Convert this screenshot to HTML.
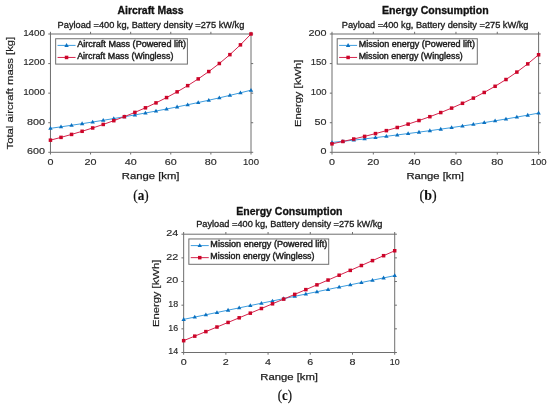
<!DOCTYPE html>
<html><head><meta charset="utf-8"><style>
html,body{margin:0;padding:0;background:#fff;}
body{width:550px;height:410px;overflow:hidden;}
svg{display:block;will-change:transform;}
</style></head><body>
<svg width="550" height="410" viewBox="0 0 550 410">
<rect width="550" height="410" fill="#fff"/>
<text x="117.50" y="14.20" font-size="10.2" font-weight="bold" text-anchor="start" fill="#111" stroke="#111" stroke-width="0.3" font-family='"Liberation Sans", sans-serif' textLength="66.10" lengthAdjust="spacingAndGlyphs">Aircraft Mass</text>
<text x="57.60" y="27.60" font-size="8.5" font-weight="normal" text-anchor="start" fill="#1a1a1a" stroke="#1a1a1a" stroke-width="0.3" font-family='"Liberation Sans", sans-serif' textLength="186.70" lengthAdjust="spacingAndGlyphs">Payload =400 kg, Battery density =275 kW/kg</text>
<rect x="50.45" y="34.00" width="200.55" height="118.30" fill="none" stroke="#6e6e6e" stroke-width="1"/>
<line x1="50.45" y1="152.30" x2="50.45" y2="154.50" stroke="#6e6e6e" stroke-width="1"/>
<line x1="50.45" y1="34.00" x2="50.45" y2="31.80" stroke="#6e6e6e" stroke-width="1"/>
<text x="50.45" y="165.00" font-size="8.8" font-weight="normal" text-anchor="middle" fill="#2a2a2a" stroke="#2a2a2a" stroke-width="0.15" font-family='"Liberation Sans", sans-serif' textLength="6.00" lengthAdjust="spacingAndGlyphs">0</text>
<line x1="90.56" y1="152.30" x2="90.56" y2="154.50" stroke="#6e6e6e" stroke-width="1"/>
<line x1="90.56" y1="34.00" x2="90.56" y2="31.80" stroke="#6e6e6e" stroke-width="1"/>
<text x="90.56" y="165.00" font-size="8.8" font-weight="normal" text-anchor="middle" fill="#2a2a2a" stroke="#2a2a2a" stroke-width="0.15" font-family='"Liberation Sans", sans-serif' textLength="12.00" lengthAdjust="spacingAndGlyphs">20</text>
<line x1="130.67" y1="152.30" x2="130.67" y2="154.50" stroke="#6e6e6e" stroke-width="1"/>
<line x1="130.67" y1="34.00" x2="130.67" y2="31.80" stroke="#6e6e6e" stroke-width="1"/>
<text x="130.67" y="165.00" font-size="8.8" font-weight="normal" text-anchor="middle" fill="#2a2a2a" stroke="#2a2a2a" stroke-width="0.15" font-family='"Liberation Sans", sans-serif' textLength="12.00" lengthAdjust="spacingAndGlyphs">40</text>
<line x1="170.78" y1="152.30" x2="170.78" y2="154.50" stroke="#6e6e6e" stroke-width="1"/>
<line x1="170.78" y1="34.00" x2="170.78" y2="31.80" stroke="#6e6e6e" stroke-width="1"/>
<text x="170.78" y="165.00" font-size="8.8" font-weight="normal" text-anchor="middle" fill="#2a2a2a" stroke="#2a2a2a" stroke-width="0.15" font-family='"Liberation Sans", sans-serif' textLength="12.00" lengthAdjust="spacingAndGlyphs">60</text>
<line x1="210.89" y1="152.30" x2="210.89" y2="154.50" stroke="#6e6e6e" stroke-width="1"/>
<line x1="210.89" y1="34.00" x2="210.89" y2="31.80" stroke="#6e6e6e" stroke-width="1"/>
<text x="210.89" y="165.00" font-size="8.8" font-weight="normal" text-anchor="middle" fill="#2a2a2a" stroke="#2a2a2a" stroke-width="0.15" font-family='"Liberation Sans", sans-serif' textLength="12.00" lengthAdjust="spacingAndGlyphs">80</text>
<line x1="251.00" y1="152.30" x2="251.00" y2="154.50" stroke="#6e6e6e" stroke-width="1"/>
<line x1="251.00" y1="34.00" x2="251.00" y2="31.80" stroke="#6e6e6e" stroke-width="1"/>
<text x="251.00" y="165.00" font-size="8.8" font-weight="normal" text-anchor="middle" fill="#2a2a2a" stroke="#2a2a2a" stroke-width="0.15" font-family='"Liberation Sans", sans-serif' textLength="15.90" lengthAdjust="spacingAndGlyphs">100</text>
<line x1="50.45" y1="152.30" x2="48.25" y2="152.30" stroke="#6e6e6e" stroke-width="1"/>
<line x1="251.00" y1="152.30" x2="253.20" y2="152.30" stroke="#6e6e6e" stroke-width="1"/>
<text x="45.05" y="154.20" font-size="8.8" font-weight="normal" text-anchor="end" fill="#2a2a2a" stroke="#2a2a2a" stroke-width="0.15" font-family='"Liberation Sans", sans-serif' textLength="18.00" lengthAdjust="spacingAndGlyphs">600</text>
<line x1="50.45" y1="122.73" x2="48.25" y2="122.73" stroke="#6e6e6e" stroke-width="1"/>
<line x1="251.00" y1="122.73" x2="253.20" y2="122.73" stroke="#6e6e6e" stroke-width="1"/>
<text x="45.05" y="124.63" font-size="8.8" font-weight="normal" text-anchor="end" fill="#2a2a2a" stroke="#2a2a2a" stroke-width="0.15" font-family='"Liberation Sans", sans-serif' textLength="18.00" lengthAdjust="spacingAndGlyphs">800</text>
<line x1="50.45" y1="93.15" x2="48.25" y2="93.15" stroke="#6e6e6e" stroke-width="1"/>
<line x1="251.00" y1="93.15" x2="253.20" y2="93.15" stroke="#6e6e6e" stroke-width="1"/>
<text x="45.05" y="95.05" font-size="8.8" font-weight="normal" text-anchor="end" fill="#2a2a2a" stroke="#2a2a2a" stroke-width="0.15" font-family='"Liberation Sans", sans-serif' textLength="21.90" lengthAdjust="spacingAndGlyphs">1000</text>
<line x1="50.45" y1="63.58" x2="48.25" y2="63.58" stroke="#6e6e6e" stroke-width="1"/>
<line x1="251.00" y1="63.58" x2="253.20" y2="63.58" stroke="#6e6e6e" stroke-width="1"/>
<text x="45.05" y="65.48" font-size="8.8" font-weight="normal" text-anchor="end" fill="#2a2a2a" stroke="#2a2a2a" stroke-width="0.15" font-family='"Liberation Sans", sans-serif' textLength="21.90" lengthAdjust="spacingAndGlyphs">1200</text>
<line x1="50.45" y1="34.00" x2="48.25" y2="34.00" stroke="#6e6e6e" stroke-width="1"/>
<line x1="251.00" y1="34.00" x2="253.20" y2="34.00" stroke="#6e6e6e" stroke-width="1"/>
<text x="45.05" y="35.90" font-size="8.8" font-weight="normal" text-anchor="end" fill="#2a2a2a" stroke="#2a2a2a" stroke-width="0.15" font-family='"Liberation Sans", sans-serif' textLength="21.90" lengthAdjust="spacingAndGlyphs">1400</text>
<path d="M50.45,128.34 L61.01,126.82 L71.56,125.26 L82.12,123.66 L92.67,122.00 L103.23,120.31 L113.78,118.56 L124.34,116.76 L134.89,114.91 L145.45,113.00 L156.00,111.04 L166.56,109.01 L177.11,106.91 L187.67,104.76 L198.22,102.52 L208.78,100.22 L219.33,97.84 L229.89,95.37 L240.44,92.82 L251.00,90.18" fill="none" stroke="#3d9ddf" stroke-width="1"/>
<path d="M50.45,126.04 L52.65,129.84 L48.25,129.84 Z" fill="#0a70c0"/>
<path d="M61.01,124.52 L63.21,128.32 L58.81,128.32 Z" fill="#0a70c0"/>
<path d="M71.56,122.96 L73.76,126.76 L69.36,126.76 Z" fill="#0a70c0"/>
<path d="M82.12,121.36 L84.32,125.16 L79.92,125.16 Z" fill="#0a70c0"/>
<path d="M92.67,119.70 L94.87,123.50 L90.47,123.50 Z" fill="#0a70c0"/>
<path d="M103.23,118.01 L105.43,121.81 L101.03,121.81 Z" fill="#0a70c0"/>
<path d="M113.78,116.26 L115.98,120.06 L111.58,120.06 Z" fill="#0a70c0"/>
<path d="M124.34,114.46 L126.54,118.26 L122.14,118.26 Z" fill="#0a70c0"/>
<path d="M134.89,112.61 L137.09,116.41 L132.69,116.41 Z" fill="#0a70c0"/>
<path d="M145.45,110.70 L147.65,114.50 L143.25,114.50 Z" fill="#0a70c0"/>
<path d="M156.00,108.74 L158.20,112.54 L153.80,112.54 Z" fill="#0a70c0"/>
<path d="M166.56,106.71 L168.76,110.51 L164.36,110.51 Z" fill="#0a70c0"/>
<path d="M177.11,104.61 L179.31,108.41 L174.91,108.41 Z" fill="#0a70c0"/>
<path d="M187.67,102.46 L189.87,106.26 L185.47,106.26 Z" fill="#0a70c0"/>
<path d="M198.22,100.22 L200.42,104.02 L196.02,104.02 Z" fill="#0a70c0"/>
<path d="M208.78,97.92 L210.98,101.72 L206.58,101.72 Z" fill="#0a70c0"/>
<path d="M219.33,95.54 L221.53,99.34 L217.13,99.34 Z" fill="#0a70c0"/>
<path d="M229.89,93.07 L232.09,96.87 L227.69,96.87 Z" fill="#0a70c0"/>
<path d="M240.44,90.52 L242.64,94.32 L238.24,94.32 Z" fill="#0a70c0"/>
<path d="M251.00,87.88 L253.20,91.68 L248.80,91.68 Z" fill="#0a70c0"/>
<path d="M50.45,140.17 L61.01,137.38 L71.56,134.42 L82.12,131.29 L92.67,127.97 L103.23,124.44 L113.78,120.68 L124.34,116.68 L134.89,112.40 L145.45,107.81 L156.00,102.88 L166.56,97.58 L177.11,91.85 L187.67,85.65 L198.22,78.90 L208.78,71.55 L219.33,63.50 L229.89,54.64 L240.44,44.85 L251.00,33.98" fill="none" stroke="#d5234c" stroke-width="1"/>
<rect x="48.70" y="138.42" width="3.5" height="3.5" fill="#cc0529"/>
<rect x="59.26" y="135.63" width="3.5" height="3.5" fill="#cc0529"/>
<rect x="69.81" y="132.67" width="3.5" height="3.5" fill="#cc0529"/>
<rect x="80.37" y="129.54" width="3.5" height="3.5" fill="#cc0529"/>
<rect x="90.92" y="126.22" width="3.5" height="3.5" fill="#cc0529"/>
<rect x="101.48" y="122.69" width="3.5" height="3.5" fill="#cc0529"/>
<rect x="112.03" y="118.93" width="3.5" height="3.5" fill="#cc0529"/>
<rect x="122.59" y="114.93" width="3.5" height="3.5" fill="#cc0529"/>
<rect x="133.14" y="110.65" width="3.5" height="3.5" fill="#cc0529"/>
<rect x="143.70" y="106.06" width="3.5" height="3.5" fill="#cc0529"/>
<rect x="154.25" y="101.13" width="3.5" height="3.5" fill="#cc0529"/>
<rect x="164.81" y="95.83" width="3.5" height="3.5" fill="#cc0529"/>
<rect x="175.36" y="90.10" width="3.5" height="3.5" fill="#cc0529"/>
<rect x="185.92" y="83.90" width="3.5" height="3.5" fill="#cc0529"/>
<rect x="196.47" y="77.15" width="3.5" height="3.5" fill="#cc0529"/>
<rect x="207.03" y="69.80" width="3.5" height="3.5" fill="#cc0529"/>
<rect x="217.58" y="61.75" width="3.5" height="3.5" fill="#cc0529"/>
<rect x="228.14" y="52.89" width="3.5" height="3.5" fill="#cc0529"/>
<rect x="238.69" y="43.10" width="3.5" height="3.5" fill="#cc0529"/>
<rect x="249.25" y="32.23" width="3.5" height="3.5" fill="#cc0529"/>
<rect x="55.65" y="38.75" width="131.75" height="25.35" fill="#fff" stroke="#6e6e6e" stroke-width="1"/>
<line x1="57.55" y1="45.40" x2="75.55" y2="45.40" stroke="#3d9ddf" stroke-width="1"/>
<path d="M66.55,43.10 L68.75,46.90 L64.35,46.90 Z" fill="#0a70c0"/>
<text x="77.15" y="47.00" font-size="8.4" font-weight="normal" text-anchor="start" fill="#1c1c1c" stroke="#1c1c1c" stroke-width="0.4" font-family='"Liberation Sans", sans-serif' textLength="108.95" lengthAdjust="spacingAndGlyphs">Aircraft Mass (Powered lift)</text>
<line x1="57.55" y1="57.45" x2="75.55" y2="57.45" stroke="#d5234c" stroke-width="1"/>
<rect x="64.80" y="55.70" width="3.5" height="3.5" fill="#cc0529"/>
<text x="77.15" y="59.05" font-size="8.4" font-weight="normal" text-anchor="start" fill="#1c1c1c" stroke="#1c1c1c" stroke-width="0.4" font-family='"Liberation Sans", sans-serif' textLength="96.25" lengthAdjust="spacingAndGlyphs">Aircraft Mass (Wingless)</text>
<g transform="translate(12.80,93.15) rotate(-90)">
<text x="0.00" y="0.00" font-size="9.6" font-weight="normal" text-anchor="middle" fill="#1c1c1c" stroke="#1c1c1c" stroke-width="0.2" font-family='"Liberation Sans", sans-serif' textLength="112.70" lengthAdjust="spacingAndGlyphs">Total aircraft mass [kg]</text>
</g>
<text x="121.80" y="179.30" font-size="9.4" font-weight="normal" text-anchor="start" fill="#1c1c1c" stroke="#1c1c1c" stroke-width="0.25" font-family='"Liberation Sans", sans-serif' textLength="57.70" lengthAdjust="spacingAndGlyphs">Range [km]</text>
<text x="133.30" y="200.00" font-size="14" fill="#111" stroke="#111" stroke-width="0.2" font-family='"Liberation Serif", serif' textLength="15.40" lengthAdjust="spacingAndGlyphs">(<tspan font-weight="bold" stroke-width="0.1">a</tspan>)</text>
<text x="382.00" y="14.20" font-size="10.2" font-weight="bold" text-anchor="start" fill="#111" stroke="#111" stroke-width="0.3" font-family='"Liberation Sans", sans-serif' textLength="106.70" lengthAdjust="spacingAndGlyphs">Energy Consumption</text>
<text x="341.80" y="27.60" font-size="8.5" font-weight="normal" text-anchor="start" fill="#1a1a1a" stroke="#1a1a1a" stroke-width="0.3" font-family='"Liberation Sans", sans-serif' textLength="186.70" lengthAdjust="spacingAndGlyphs">Payload =400 kg, Battery density =275 kW/kg</text>
<rect x="332.00" y="34.00" width="206.60" height="118.30" fill="none" stroke="#6e6e6e" stroke-width="1"/>
<line x1="332.00" y1="152.30" x2="332.00" y2="154.50" stroke="#6e6e6e" stroke-width="1"/>
<line x1="332.00" y1="34.00" x2="332.00" y2="31.80" stroke="#6e6e6e" stroke-width="1"/>
<text x="332.00" y="165.00" font-size="8.8" font-weight="normal" text-anchor="middle" fill="#2a2a2a" stroke="#2a2a2a" stroke-width="0.15" font-family='"Liberation Sans", sans-serif' textLength="6.00" lengthAdjust="spacingAndGlyphs">0</text>
<line x1="373.32" y1="152.30" x2="373.32" y2="154.50" stroke="#6e6e6e" stroke-width="1"/>
<line x1="373.32" y1="34.00" x2="373.32" y2="31.80" stroke="#6e6e6e" stroke-width="1"/>
<text x="373.32" y="165.00" font-size="8.8" font-weight="normal" text-anchor="middle" fill="#2a2a2a" stroke="#2a2a2a" stroke-width="0.15" font-family='"Liberation Sans", sans-serif' textLength="12.00" lengthAdjust="spacingAndGlyphs">20</text>
<line x1="414.64" y1="152.30" x2="414.64" y2="154.50" stroke="#6e6e6e" stroke-width="1"/>
<line x1="414.64" y1="34.00" x2="414.64" y2="31.80" stroke="#6e6e6e" stroke-width="1"/>
<text x="414.64" y="165.00" font-size="8.8" font-weight="normal" text-anchor="middle" fill="#2a2a2a" stroke="#2a2a2a" stroke-width="0.15" font-family='"Liberation Sans", sans-serif' textLength="12.00" lengthAdjust="spacingAndGlyphs">40</text>
<line x1="455.96" y1="152.30" x2="455.96" y2="154.50" stroke="#6e6e6e" stroke-width="1"/>
<line x1="455.96" y1="34.00" x2="455.96" y2="31.80" stroke="#6e6e6e" stroke-width="1"/>
<text x="455.96" y="165.00" font-size="8.8" font-weight="normal" text-anchor="middle" fill="#2a2a2a" stroke="#2a2a2a" stroke-width="0.15" font-family='"Liberation Sans", sans-serif' textLength="12.00" lengthAdjust="spacingAndGlyphs">60</text>
<line x1="497.28" y1="152.30" x2="497.28" y2="154.50" stroke="#6e6e6e" stroke-width="1"/>
<line x1="497.28" y1="34.00" x2="497.28" y2="31.80" stroke="#6e6e6e" stroke-width="1"/>
<text x="497.28" y="165.00" font-size="8.8" font-weight="normal" text-anchor="middle" fill="#2a2a2a" stroke="#2a2a2a" stroke-width="0.15" font-family='"Liberation Sans", sans-serif' textLength="12.00" lengthAdjust="spacingAndGlyphs">80</text>
<line x1="538.60" y1="152.30" x2="538.60" y2="154.50" stroke="#6e6e6e" stroke-width="1"/>
<line x1="538.60" y1="34.00" x2="538.60" y2="31.80" stroke="#6e6e6e" stroke-width="1"/>
<text x="538.60" y="165.00" font-size="8.8" font-weight="normal" text-anchor="middle" fill="#2a2a2a" stroke="#2a2a2a" stroke-width="0.15" font-family='"Liberation Sans", sans-serif' textLength="15.90" lengthAdjust="spacingAndGlyphs">100</text>
<line x1="332.00" y1="152.30" x2="329.80" y2="152.30" stroke="#6e6e6e" stroke-width="1"/>
<line x1="538.60" y1="152.30" x2="540.80" y2="152.30" stroke="#6e6e6e" stroke-width="1"/>
<text x="326.60" y="154.20" font-size="8.8" font-weight="normal" text-anchor="end" fill="#2a2a2a" stroke="#2a2a2a" stroke-width="0.15" font-family='"Liberation Sans", sans-serif' textLength="6.00" lengthAdjust="spacingAndGlyphs">0</text>
<line x1="332.00" y1="122.73" x2="329.80" y2="122.73" stroke="#6e6e6e" stroke-width="1"/>
<line x1="538.60" y1="122.73" x2="540.80" y2="122.73" stroke="#6e6e6e" stroke-width="1"/>
<text x="326.60" y="124.63" font-size="8.8" font-weight="normal" text-anchor="end" fill="#2a2a2a" stroke="#2a2a2a" stroke-width="0.15" font-family='"Liberation Sans", sans-serif' textLength="12.00" lengthAdjust="spacingAndGlyphs">50</text>
<line x1="332.00" y1="93.15" x2="329.80" y2="93.15" stroke="#6e6e6e" stroke-width="1"/>
<line x1="538.60" y1="93.15" x2="540.80" y2="93.15" stroke="#6e6e6e" stroke-width="1"/>
<text x="326.60" y="95.05" font-size="8.8" font-weight="normal" text-anchor="end" fill="#2a2a2a" stroke="#2a2a2a" stroke-width="0.15" font-family='"Liberation Sans", sans-serif' textLength="15.90" lengthAdjust="spacingAndGlyphs">100</text>
<line x1="332.00" y1="63.58" x2="329.80" y2="63.58" stroke="#6e6e6e" stroke-width="1"/>
<line x1="538.60" y1="63.58" x2="540.80" y2="63.58" stroke="#6e6e6e" stroke-width="1"/>
<text x="326.60" y="65.48" font-size="8.8" font-weight="normal" text-anchor="end" fill="#2a2a2a" stroke="#2a2a2a" stroke-width="0.15" font-family='"Liberation Sans", sans-serif' textLength="15.90" lengthAdjust="spacingAndGlyphs">150</text>
<line x1="332.00" y1="34.00" x2="329.80" y2="34.00" stroke="#6e6e6e" stroke-width="1"/>
<line x1="538.60" y1="34.00" x2="540.80" y2="34.00" stroke="#6e6e6e" stroke-width="1"/>
<text x="326.60" y="35.90" font-size="8.8" font-weight="normal" text-anchor="end" fill="#2a2a2a" stroke="#2a2a2a" stroke-width="0.15" font-family='"Liberation Sans", sans-serif' textLength="18.00" lengthAdjust="spacingAndGlyphs">200</text>
<path d="M332.00,142.48 L342.87,141.31 L353.75,140.11 L364.62,138.87 L375.49,137.60 L386.37,136.29 L397.24,134.95 L408.12,133.56 L418.99,132.14 L429.86,130.67 L440.74,129.15 L451.61,127.59 L462.48,125.98 L473.36,124.32 L484.23,122.60 L495.11,120.82 L505.98,118.99 L516.85,117.09 L527.73,115.13 L538.60,113.09" fill="none" stroke="#3d9ddf" stroke-width="1"/>
<path d="M332.00,140.18 L334.20,143.98 L329.80,143.98 Z" fill="#0a70c0"/>
<path d="M342.87,139.01 L345.07,142.81 L340.67,142.81 Z" fill="#0a70c0"/>
<path d="M353.75,137.81 L355.95,141.61 L351.55,141.61 Z" fill="#0a70c0"/>
<path d="M364.62,136.57 L366.82,140.37 L362.42,140.37 Z" fill="#0a70c0"/>
<path d="M375.49,135.30 L377.69,139.10 L373.29,139.10 Z" fill="#0a70c0"/>
<path d="M386.37,133.99 L388.57,137.79 L384.17,137.79 Z" fill="#0a70c0"/>
<path d="M397.24,132.65 L399.44,136.45 L395.04,136.45 Z" fill="#0a70c0"/>
<path d="M408.12,131.26 L410.32,135.06 L405.92,135.06 Z" fill="#0a70c0"/>
<path d="M418.99,129.84 L421.19,133.64 L416.79,133.64 Z" fill="#0a70c0"/>
<path d="M429.86,128.37 L432.06,132.17 L427.66,132.17 Z" fill="#0a70c0"/>
<path d="M440.74,126.85 L442.94,130.65 L438.54,130.65 Z" fill="#0a70c0"/>
<path d="M451.61,125.29 L453.81,129.09 L449.41,129.09 Z" fill="#0a70c0"/>
<path d="M462.48,123.68 L464.68,127.48 L460.28,127.48 Z" fill="#0a70c0"/>
<path d="M473.36,122.02 L475.56,125.82 L471.16,125.82 Z" fill="#0a70c0"/>
<path d="M484.23,120.30 L486.43,124.10 L482.03,124.10 Z" fill="#0a70c0"/>
<path d="M495.11,118.52 L497.31,122.32 L492.91,122.32 Z" fill="#0a70c0"/>
<path d="M505.98,116.69 L508.18,120.49 L503.78,120.49 Z" fill="#0a70c0"/>
<path d="M516.85,114.79 L519.05,118.59 L514.65,118.59 Z" fill="#0a70c0"/>
<path d="M527.73,112.83 L529.93,116.63 L525.53,116.63 Z" fill="#0a70c0"/>
<path d="M538.60,110.79 L540.80,114.59 L536.40,114.59 Z" fill="#0a70c0"/>
<path d="M332.00,143.84 L342.87,141.49 L353.75,139.01 L364.62,136.39 L375.49,133.60 L386.37,130.64 L397.24,127.49 L408.12,124.13 L418.99,120.54 L429.86,116.69 L440.74,112.56 L451.61,108.11 L462.48,103.31 L473.36,98.10 L484.23,92.45 L495.11,86.28 L505.98,79.52 L516.85,72.09 L527.73,63.89 L538.60,54.77" fill="none" stroke="#d5234c" stroke-width="1"/>
<rect x="330.25" y="142.09" width="3.5" height="3.5" fill="#cc0529"/>
<rect x="341.12" y="139.74" width="3.5" height="3.5" fill="#cc0529"/>
<rect x="352.00" y="137.26" width="3.5" height="3.5" fill="#cc0529"/>
<rect x="362.87" y="134.64" width="3.5" height="3.5" fill="#cc0529"/>
<rect x="373.74" y="131.85" width="3.5" height="3.5" fill="#cc0529"/>
<rect x="384.62" y="128.89" width="3.5" height="3.5" fill="#cc0529"/>
<rect x="395.49" y="125.74" width="3.5" height="3.5" fill="#cc0529"/>
<rect x="406.37" y="122.38" width="3.5" height="3.5" fill="#cc0529"/>
<rect x="417.24" y="118.79" width="3.5" height="3.5" fill="#cc0529"/>
<rect x="428.11" y="114.94" width="3.5" height="3.5" fill="#cc0529"/>
<rect x="438.99" y="110.81" width="3.5" height="3.5" fill="#cc0529"/>
<rect x="449.86" y="106.36" width="3.5" height="3.5" fill="#cc0529"/>
<rect x="460.73" y="101.56" width="3.5" height="3.5" fill="#cc0529"/>
<rect x="471.61" y="96.35" width="3.5" height="3.5" fill="#cc0529"/>
<rect x="482.48" y="90.70" width="3.5" height="3.5" fill="#cc0529"/>
<rect x="493.36" y="84.53" width="3.5" height="3.5" fill="#cc0529"/>
<rect x="504.23" y="77.77" width="3.5" height="3.5" fill="#cc0529"/>
<rect x="515.10" y="70.34" width="3.5" height="3.5" fill="#cc0529"/>
<rect x="525.98" y="62.14" width="3.5" height="3.5" fill="#cc0529"/>
<rect x="536.85" y="53.02" width="3.5" height="3.5" fill="#cc0529"/>
<rect x="337.20" y="38.75" width="140.10" height="25.35" fill="#fff" stroke="#6e6e6e" stroke-width="1"/>
<line x1="339.10" y1="45.40" x2="357.10" y2="45.40" stroke="#3d9ddf" stroke-width="1"/>
<path d="M348.10,43.10 L350.30,46.90 L345.90,46.90 Z" fill="#0a70c0"/>
<text x="358.70" y="47.00" font-size="8.4" font-weight="normal" text-anchor="start" fill="#1c1c1c" stroke="#1c1c1c" stroke-width="0.4" font-family='"Liberation Sans", sans-serif' textLength="116.30" lengthAdjust="spacingAndGlyphs">Mission energy (Powered lift)</text>
<line x1="339.10" y1="57.45" x2="357.10" y2="57.45" stroke="#d5234c" stroke-width="1"/>
<rect x="346.35" y="55.70" width="3.5" height="3.5" fill="#cc0529"/>
<text x="358.70" y="59.05" font-size="8.4" font-weight="normal" text-anchor="start" fill="#1c1c1c" stroke="#1c1c1c" stroke-width="0.4" font-family='"Liberation Sans", sans-serif' textLength="104.10" lengthAdjust="spacingAndGlyphs">Mission energy (Wingless)</text>
<g transform="translate(300.80,93.40) rotate(-90)">
<text x="0.00" y="0.00" font-size="9.6" font-weight="normal" text-anchor="middle" fill="#1c1c1c" stroke="#1c1c1c" stroke-width="0.2" font-family='"Liberation Sans", sans-serif' textLength="67.40" lengthAdjust="spacingAndGlyphs">Energy [kWh]</text>
</g>
<text x="406.40" y="179.30" font-size="9.4" font-weight="normal" text-anchor="start" fill="#1c1c1c" stroke="#1c1c1c" stroke-width="0.25" font-family='"Liberation Sans", sans-serif' textLength="57.60" lengthAdjust="spacingAndGlyphs">Range [km]</text>
<text x="419.60" y="200.00" font-size="14" fill="#111" stroke="#111" stroke-width="0.2" font-family='"Liberation Serif", serif' textLength="17.10" lengthAdjust="spacingAndGlyphs">(<tspan font-weight="bold" stroke-width="0.1">b</tspan>)</text>
<text x="236.30" y="214.70" font-size="10.2" font-weight="bold" text-anchor="start" fill="#111" stroke="#111" stroke-width="0.3" font-family='"Liberation Sans", sans-serif' textLength="106.20" lengthAdjust="spacingAndGlyphs">Energy Consumption</text>
<text x="196.20" y="227.30" font-size="8.5" font-weight="normal" text-anchor="start" fill="#1a1a1a" stroke="#1a1a1a" stroke-width="0.3" font-family='"Liberation Sans", sans-serif' textLength="186.30" lengthAdjust="spacingAndGlyphs">Payload =400 kg, Battery density =275 kW/kg</text>
<rect x="183.65" y="234.20" width="211.05" height="118.30" fill="none" stroke="#6e6e6e" stroke-width="1"/>
<line x1="183.65" y1="352.50" x2="183.65" y2="354.70" stroke="#6e6e6e" stroke-width="1"/>
<line x1="183.65" y1="234.20" x2="183.65" y2="232.00" stroke="#6e6e6e" stroke-width="1"/>
<text x="183.65" y="365.20" font-size="8.8" font-weight="normal" text-anchor="middle" fill="#2a2a2a" stroke="#2a2a2a" stroke-width="0.15" font-family='"Liberation Sans", sans-serif' textLength="6.00" lengthAdjust="spacingAndGlyphs">0</text>
<line x1="225.86" y1="352.50" x2="225.86" y2="354.70" stroke="#6e6e6e" stroke-width="1"/>
<line x1="225.86" y1="234.20" x2="225.86" y2="232.00" stroke="#6e6e6e" stroke-width="1"/>
<text x="225.86" y="365.20" font-size="8.8" font-weight="normal" text-anchor="middle" fill="#2a2a2a" stroke="#2a2a2a" stroke-width="0.15" font-family='"Liberation Sans", sans-serif' textLength="6.00" lengthAdjust="spacingAndGlyphs">2</text>
<line x1="268.07" y1="352.50" x2="268.07" y2="354.70" stroke="#6e6e6e" stroke-width="1"/>
<line x1="268.07" y1="234.20" x2="268.07" y2="232.00" stroke="#6e6e6e" stroke-width="1"/>
<text x="268.07" y="365.20" font-size="8.8" font-weight="normal" text-anchor="middle" fill="#2a2a2a" stroke="#2a2a2a" stroke-width="0.15" font-family='"Liberation Sans", sans-serif' textLength="6.00" lengthAdjust="spacingAndGlyphs">4</text>
<line x1="310.28" y1="352.50" x2="310.28" y2="354.70" stroke="#6e6e6e" stroke-width="1"/>
<line x1="310.28" y1="234.20" x2="310.28" y2="232.00" stroke="#6e6e6e" stroke-width="1"/>
<text x="310.28" y="365.20" font-size="8.8" font-weight="normal" text-anchor="middle" fill="#2a2a2a" stroke="#2a2a2a" stroke-width="0.15" font-family='"Liberation Sans", sans-serif' textLength="6.00" lengthAdjust="spacingAndGlyphs">6</text>
<line x1="352.49" y1="352.50" x2="352.49" y2="354.70" stroke="#6e6e6e" stroke-width="1"/>
<line x1="352.49" y1="234.20" x2="352.49" y2="232.00" stroke="#6e6e6e" stroke-width="1"/>
<text x="352.49" y="365.20" font-size="8.8" font-weight="normal" text-anchor="middle" fill="#2a2a2a" stroke="#2a2a2a" stroke-width="0.15" font-family='"Liberation Sans", sans-serif' textLength="6.00" lengthAdjust="spacingAndGlyphs">8</text>
<line x1="394.70" y1="352.50" x2="394.70" y2="354.70" stroke="#6e6e6e" stroke-width="1"/>
<line x1="394.70" y1="234.20" x2="394.70" y2="232.00" stroke="#6e6e6e" stroke-width="1"/>
<text x="394.70" y="365.20" font-size="8.8" font-weight="normal" text-anchor="middle" fill="#2a2a2a" stroke="#2a2a2a" stroke-width="0.15" font-family='"Liberation Sans", sans-serif' textLength="9.90" lengthAdjust="spacingAndGlyphs">10</text>
<line x1="183.65" y1="352.50" x2="181.45" y2="352.50" stroke="#6e6e6e" stroke-width="1"/>
<line x1="394.70" y1="352.50" x2="396.90" y2="352.50" stroke="#6e6e6e" stroke-width="1"/>
<text x="178.25" y="354.40" font-size="8.8" font-weight="normal" text-anchor="end" fill="#2a2a2a" stroke="#2a2a2a" stroke-width="0.15" font-family='"Liberation Sans", sans-serif' textLength="9.90" lengthAdjust="spacingAndGlyphs">14</text>
<line x1="183.65" y1="328.84" x2="181.45" y2="328.84" stroke="#6e6e6e" stroke-width="1"/>
<line x1="394.70" y1="328.84" x2="396.90" y2="328.84" stroke="#6e6e6e" stroke-width="1"/>
<text x="178.25" y="330.74" font-size="8.8" font-weight="normal" text-anchor="end" fill="#2a2a2a" stroke="#2a2a2a" stroke-width="0.15" font-family='"Liberation Sans", sans-serif' textLength="9.90" lengthAdjust="spacingAndGlyphs">16</text>
<line x1="183.65" y1="305.18" x2="181.45" y2="305.18" stroke="#6e6e6e" stroke-width="1"/>
<line x1="394.70" y1="305.18" x2="396.90" y2="305.18" stroke="#6e6e6e" stroke-width="1"/>
<text x="178.25" y="307.08" font-size="8.8" font-weight="normal" text-anchor="end" fill="#2a2a2a" stroke="#2a2a2a" stroke-width="0.15" font-family='"Liberation Sans", sans-serif' textLength="9.90" lengthAdjust="spacingAndGlyphs">18</text>
<line x1="183.65" y1="281.52" x2="181.45" y2="281.52" stroke="#6e6e6e" stroke-width="1"/>
<line x1="394.70" y1="281.52" x2="396.90" y2="281.52" stroke="#6e6e6e" stroke-width="1"/>
<text x="178.25" y="283.42" font-size="8.8" font-weight="normal" text-anchor="end" fill="#2a2a2a" stroke="#2a2a2a" stroke-width="0.15" font-family='"Liberation Sans", sans-serif' textLength="12.00" lengthAdjust="spacingAndGlyphs">20</text>
<line x1="183.65" y1="257.86" x2="181.45" y2="257.86" stroke="#6e6e6e" stroke-width="1"/>
<line x1="394.70" y1="257.86" x2="396.90" y2="257.86" stroke="#6e6e6e" stroke-width="1"/>
<text x="178.25" y="259.76" font-size="8.8" font-weight="normal" text-anchor="end" fill="#2a2a2a" stroke="#2a2a2a" stroke-width="0.15" font-family='"Liberation Sans", sans-serif' textLength="12.00" lengthAdjust="spacingAndGlyphs">22</text>
<line x1="183.65" y1="234.20" x2="181.45" y2="234.20" stroke="#6e6e6e" stroke-width="1"/>
<line x1="394.70" y1="234.20" x2="396.90" y2="234.20" stroke="#6e6e6e" stroke-width="1"/>
<text x="178.25" y="236.10" font-size="8.8" font-weight="normal" text-anchor="end" fill="#2a2a2a" stroke="#2a2a2a" stroke-width="0.15" font-family='"Liberation Sans", sans-serif' textLength="12.00" lengthAdjust="spacingAndGlyphs">24</text>
<path d="M183.65,319.38 L194.76,317.07 L205.87,314.77 L216.97,312.46 L228.08,310.16 L239.19,307.86 L250.30,305.55 L261.41,303.25 L272.51,300.95 L283.62,298.64 L294.73,296.34 L305.84,294.03 L316.94,291.73 L328.05,289.43 L339.16,287.12 L350.27,284.82 L361.38,282.52 L372.48,280.21 L383.59,277.91 L394.70,275.61" fill="none" stroke="#3d9ddf" stroke-width="1"/>
<path d="M183.65,317.08 L185.85,320.88 L181.45,320.88 Z" fill="#0a70c0"/>
<path d="M194.76,314.77 L196.96,318.57 L192.56,318.57 Z" fill="#0a70c0"/>
<path d="M205.87,312.47 L208.07,316.27 L203.67,316.27 Z" fill="#0a70c0"/>
<path d="M216.97,310.16 L219.17,313.96 L214.77,313.96 Z" fill="#0a70c0"/>
<path d="M228.08,307.86 L230.28,311.66 L225.88,311.66 Z" fill="#0a70c0"/>
<path d="M239.19,305.56 L241.39,309.36 L236.99,309.36 Z" fill="#0a70c0"/>
<path d="M250.30,303.25 L252.50,307.05 L248.10,307.05 Z" fill="#0a70c0"/>
<path d="M261.41,300.95 L263.61,304.75 L259.21,304.75 Z" fill="#0a70c0"/>
<path d="M272.51,298.65 L274.71,302.45 L270.31,302.45 Z" fill="#0a70c0"/>
<path d="M283.62,296.34 L285.82,300.14 L281.42,300.14 Z" fill="#0a70c0"/>
<path d="M294.73,294.04 L296.93,297.84 L292.53,297.84 Z" fill="#0a70c0"/>
<path d="M305.84,291.73 L308.04,295.53 L303.64,295.53 Z" fill="#0a70c0"/>
<path d="M316.94,289.43 L319.14,293.23 L314.74,293.23 Z" fill="#0a70c0"/>
<path d="M328.05,287.13 L330.25,290.93 L325.85,290.93 Z" fill="#0a70c0"/>
<path d="M339.16,284.82 L341.36,288.62 L336.96,288.62 Z" fill="#0a70c0"/>
<path d="M350.27,282.52 L352.47,286.32 L348.07,286.32 Z" fill="#0a70c0"/>
<path d="M361.38,280.22 L363.58,284.02 L359.18,284.02 Z" fill="#0a70c0"/>
<path d="M372.48,277.91 L374.68,281.71 L370.28,281.71 Z" fill="#0a70c0"/>
<path d="M383.59,275.61 L385.79,279.41 L381.39,279.41 Z" fill="#0a70c0"/>
<path d="M394.70,273.31 L396.90,277.11 L392.50,277.11 Z" fill="#0a70c0"/>
<path d="M183.65,340.67 L194.76,336.14 L205.87,331.60 L216.97,327.02 L228.08,322.43 L239.19,317.81 L250.30,313.17 L261.41,308.51 L272.51,303.82 L283.62,299.11 L294.73,294.38 L305.84,289.63 L316.94,284.85 L328.05,280.05 L339.16,275.22 L350.27,270.38 L361.38,265.51 L372.48,260.62 L383.59,255.70 L394.70,250.76" fill="none" stroke="#d5234c" stroke-width="1"/>
<rect x="181.90" y="338.92" width="3.5" height="3.5" fill="#cc0529"/>
<rect x="193.01" y="334.39" width="3.5" height="3.5" fill="#cc0529"/>
<rect x="204.12" y="329.85" width="3.5" height="3.5" fill="#cc0529"/>
<rect x="215.22" y="325.27" width="3.5" height="3.5" fill="#cc0529"/>
<rect x="226.33" y="320.68" width="3.5" height="3.5" fill="#cc0529"/>
<rect x="237.44" y="316.06" width="3.5" height="3.5" fill="#cc0529"/>
<rect x="248.55" y="311.42" width="3.5" height="3.5" fill="#cc0529"/>
<rect x="259.66" y="306.76" width="3.5" height="3.5" fill="#cc0529"/>
<rect x="270.76" y="302.07" width="3.5" height="3.5" fill="#cc0529"/>
<rect x="281.87" y="297.36" width="3.5" height="3.5" fill="#cc0529"/>
<rect x="292.98" y="292.63" width="3.5" height="3.5" fill="#cc0529"/>
<rect x="304.09" y="287.88" width="3.5" height="3.5" fill="#cc0529"/>
<rect x="315.19" y="283.10" width="3.5" height="3.5" fill="#cc0529"/>
<rect x="326.30" y="278.30" width="3.5" height="3.5" fill="#cc0529"/>
<rect x="337.41" y="273.47" width="3.5" height="3.5" fill="#cc0529"/>
<rect x="348.52" y="268.63" width="3.5" height="3.5" fill="#cc0529"/>
<rect x="359.63" y="263.76" width="3.5" height="3.5" fill="#cc0529"/>
<rect x="370.73" y="258.87" width="3.5" height="3.5" fill="#cc0529"/>
<rect x="381.84" y="253.95" width="3.5" height="3.5" fill="#cc0529"/>
<rect x="392.95" y="249.01" width="3.5" height="3.5" fill="#cc0529"/>
<rect x="188.85" y="238.95" width="139.85" height="25.35" fill="#fff" stroke="#6e6e6e" stroke-width="1"/>
<line x1="190.75" y1="245.60" x2="208.75" y2="245.60" stroke="#3d9ddf" stroke-width="1"/>
<path d="M199.75,243.30 L201.95,247.10 L197.55,247.10 Z" fill="#0a70c0"/>
<text x="210.35" y="247.20" font-size="8.4" font-weight="normal" text-anchor="start" fill="#1c1c1c" stroke="#1c1c1c" stroke-width="0.4" font-family='"Liberation Sans", sans-serif' textLength="117.05" lengthAdjust="spacingAndGlyphs">Mission energy (Powered lift)</text>
<line x1="190.75" y1="257.65" x2="208.75" y2="257.65" stroke="#d5234c" stroke-width="1"/>
<rect x="198.00" y="255.90" width="3.5" height="3.5" fill="#cc0529"/>
<text x="210.35" y="259.25" font-size="8.4" font-weight="normal" text-anchor="start" fill="#1c1c1c" stroke="#1c1c1c" stroke-width="0.4" font-family='"Liberation Sans", sans-serif' textLength="104.15" lengthAdjust="spacingAndGlyphs">Mission energy (Wingless)</text>
<g transform="translate(158.80,293.40) rotate(-90)">
<text x="0.00" y="0.00" font-size="9.6" font-weight="normal" text-anchor="middle" fill="#1c1c1c" stroke="#1c1c1c" stroke-width="0.2" font-family='"Liberation Sans", sans-serif' textLength="67.40" lengthAdjust="spacingAndGlyphs">Energy [kWh]</text>
</g>
<text x="260.30" y="379.70" font-size="9.4" font-weight="normal" text-anchor="start" fill="#1c1c1c" stroke="#1c1c1c" stroke-width="0.25" font-family='"Liberation Sans", sans-serif' textLength="57.70" lengthAdjust="spacingAndGlyphs">Range [km]</text>
<text x="277.70" y="399.80" font-size="14" fill="#111" stroke="#111" stroke-width="0.2" font-family='"Liberation Serif", serif' textLength="14.20" lengthAdjust="spacingAndGlyphs">(<tspan font-weight="bold" stroke-width="0.1">c</tspan>)</text>
</svg>
</body></html>
